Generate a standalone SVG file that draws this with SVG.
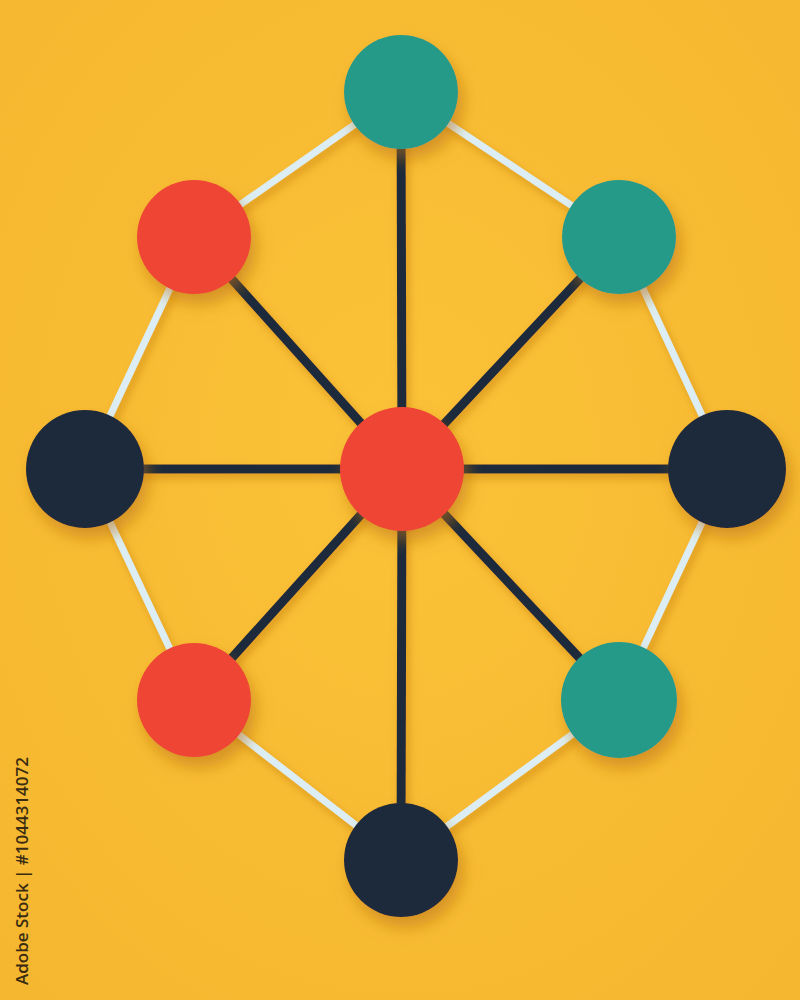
<svg xmlns="http://www.w3.org/2000/svg" width="800" height="1000" viewBox="0 0 800 1000">
  <defs>
    <radialGradient id="bg" cx="50%" cy="45%" r="70%">
      <stop offset="0" stop-color="#FBC238"/>
      <stop offset="1" stop-color="#F5B72F"/>
    </radialGradient>
    <filter id="shadow" x="-40%" y="-40%" width="190%" height="190%">
      <feDropShadow dx="5" dy="10" stdDeviation="8" flood-color="#B8700A" flood-opacity="0.55"/>
    </filter>
    <filter id="lshadow" x="-10%" y="-10%" width="120%" height="120%">
      <feDropShadow dx="3" dy="5" stdDeviation="4" flood-color="#B8700A" flood-opacity="0.45"/>
    </filter>
  </defs>
  <style>
    .ring { stroke: #DCEEF3; stroke-width: 7; stroke-linecap: round; fill: none; }
    .spoke { stroke: #1D2A3B; stroke-width: 9; fill: none; }
    .teal { fill: #279A89; }
    .red { fill: #EF4536; }
    .navy { fill: #1D2A3B; }
    .credit { font-family: "Open Sans", "Liberation Sans", sans-serif; font-size: 17px; font-weight: 600; fill: #3A2C12; }
  </style>
  <rect x="0" y="0" width="800" height="1000" fill="url(#bg)"/>

  <g id="connectors">
    <g filter="url(#lshadow)">
      <polygon class="ring" points="401,92 619,237 727,469 619,700 401,860 194,700 85,469 194,237"/>
    </g>
    <g filter="url(#lshadow)">
      <line class="spoke" x1="402" y1="469" x2="401" y2="92"/>
      <line class="spoke" x1="402" y1="469" x2="619" y2="237"/>
      <line class="spoke" x1="402" y1="469" x2="727" y2="469"/>
      <line class="spoke" x1="402" y1="469" x2="619" y2="700"/>
      <line class="spoke" x1="402" y1="469" x2="401" y2="860"/>
      <line class="spoke" x1="402" y1="469" x2="194" y2="700"/>
      <line class="spoke" x1="402" y1="469" x2="85" y2="469"/>
      <line class="spoke" x1="402" y1="469" x2="194" y2="237"/>
    </g>
  </g>

  <g id="node-top" filter="url(#shadow)"><circle class="teal" cx="401" cy="92" r="57"/></g>
  <g id="node-top-right" filter="url(#shadow)"><circle class="teal" cx="619" cy="237" r="57"/></g>
  <g id="node-right" filter="url(#shadow)"><circle class="navy" cx="727" cy="469" r="59"/></g>
  <g id="node-bottom-right" filter="url(#shadow)"><circle class="teal" cx="619" cy="700" r="58"/></g>
  <g id="node-bottom" filter="url(#shadow)"><circle class="navy" cx="401" cy="860" r="57"/></g>
  <g id="node-bottom-left" filter="url(#shadow)"><circle class="red" cx="194" cy="700" r="57"/></g>
  <g id="node-left" filter="url(#shadow)"><circle class="navy" cx="85" cy="469" r="59"/></g>
  <g id="node-top-left" filter="url(#shadow)"><circle class="red" cx="194" cy="237" r="57"/></g>
  <g id="node-center" filter="url(#shadow)"><circle class="red" cx="402" cy="469" r="62"/></g>

  <text class="credit" transform="translate(28,985) rotate(-90)" x="0" y="0">Adobe Stock | #1044314072</text>
</svg>
